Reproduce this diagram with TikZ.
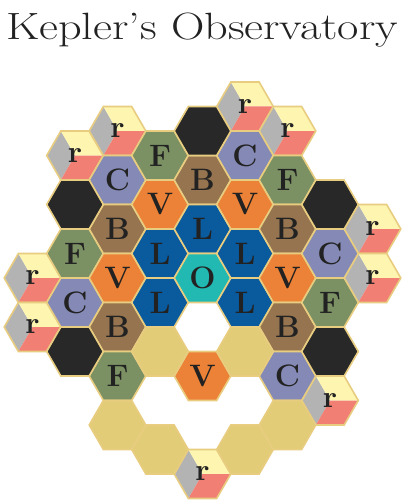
\documentclass[tikz,border=0pt]{standalone}
\usepackage{fontspec}
\usepackage{tikz}
\usetikzlibrary{shapes.geometric}

\definecolor{tileblack}{HTML}{282828}
\definecolor{tilegreen}{HTML}{7B9163}
\definecolor{tilelav}{HTML}{8589B5}
\definecolor{tilebrown}{HTML}{95744F}
\definecolor{tileorange}{HTML}{EC8237}
\definecolor{tileblue}{HTML}{0A5A9E}
\definecolor{tileteal}{HTML}{22B9B2}
\definecolor{tilesand}{HTML}{E3CC77}
\definecolor{tilegray}{HTML}{B3B3B3}
\definecolor{tilecream}{HTML}{FDF5B0}
\definecolor{tilesalmon}{HTML}{F27F74}
\definecolor{hexedge}{HTML}{E8CD80}
\definecolor{ink}{HTML}{222222}

\begin{document}
\begin{tikzpicture}[x=1pt, y=-1pt,
  hex/.style={regular polygon, regular polygon sides=6, minimum size=56.6pt,
    inner sep=0pt, draw=hexedge, line width=1.6pt, text=ink,
    font=\fontsize{31}{31}\selectfont\bfseries},
  tileF/.style={hex, fill=tilegreen},
  tileC/.style={hex, fill=tilelav},
  tileB/.style={hex, fill=tilebrown},
  tileV/.style={hex, fill=tileorange},
  tileL/.style={hex, fill=tileblue},
  tileO/.style={hex, fill=tileteal},
  void/.style={hex, fill=tileblack},
  sand/.style={hex, fill=tilesand}]
  \useasboundingbox (0,0) rectangle (405,500);

  \node[anchor=base, text=ink, font=\fontsize{38}{38}\selectfont] (title) at (202,40) {\scalebox{1.22}[1]{Kepler’s Observatory}};

  % r tiles: three rhombi under a hex outline
  \foreach \c/\d [count=\i] in {-4/0, -4/2, -3/-5, -2/-6, 1/-7, 2/-6, 4/-2, 4/0, 3/5, 0/8} {
    \coordinate (p\i) at ({202.5+42.5*\c},{278+24.5*\d});
    \fill[tilegray] (p\i) -- +(120:28.3pt) -- +(180:28.3pt) -- +(240:28.3pt) -- cycle;
    \fill[tilecream] (p\i) -- +(120:28.3pt) -- +(60:28.3pt) -- +(0:28.3pt) -- cycle;
    \fill[tilesalmon] (p\i) -- +(0:28.3pt) -- +(300:28.3pt) -- +(240:28.3pt) -- cycle;
    \node[hex] (r\i) at (p\i) {r};
  }

  \foreach \c/\d/\t [count=\i] in {-3/-1/F, -3/1/C,
      -2/-4/C, -2/-2/B, -2/0/V, -2/2/B, -2/4/F,
      -1/-5/F, -1/-3/V, -1/-1/L, -1/1/L,
      0/-4/B, 0/-2/L, 0/0/O, 0/4/V,
      1/-5/C, 1/-3/V, 1/-1/L, 1/1/L,
      2/-4/F, 2/-2/B, 2/0/V, 2/2/B, 2/4/C,
      3/-1/C, 3/1/F}
    \node[tile\t] (\t\i) at ({202.5+42.5*\c},{278+24.5*\d}) {\t};

  \foreach \c/\d [count=\i] in {-3/-3, -3/3, 0/-6, 3/-3, 3/3}
    \node[void] (void\i) at ({202.5+42.5*\c},{278+24.5*\d}) {};

  \foreach \c/\d [count=\i] in {-2/6, -1/3, -1/7, 1/3, 1/7, 2/6}
    \node[sand] (sand\i) at ({202.5+42.5*\c},{278+24.5*\d}) {};
\end{tikzpicture}
\end{document}
